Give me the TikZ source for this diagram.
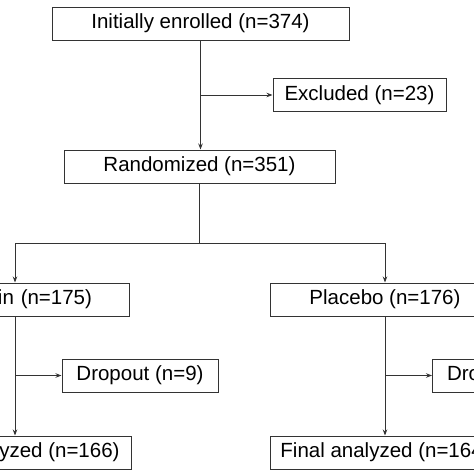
\documentclass[tikz,border=0pt]{standalone}
\usepackage{fontspec}
\setmainfont{Liberation Sans}
\usetikzlibrary{arrows.meta}
\begin{document}
\begin{tikzpicture}[x=1pt, y=-1pt,
      box/.style={rectangle, draw=black!80, line width=1pt, minimum height=33pt, inner xsep=0pt, font=\fontsize{20.5}{24}\selectfont},
      cutbox/.style={box, inner xsep=37pt, text width=154pt, align=right},
      arrow/.style={->, >={Stealth[length=6pt, width=4.5pt]}, draw=black!80, line width=0.9pt}
  ]
  \useasboundingbox (0,0) rectangle (474,474);
  \clip (0,0) rectangle (474,474);

  % Nodes (enrolment and randomization)
  \node[box, minimum width=297pt] (enrolled) at (200.5,23.5) {Initially enrolled (n=374)};
  \node[box, minimum width=173pt] (excluded) at (359.5,95) {Excluded (n=23)};
  \node[box, minimum width=271pt] (random) at (199.5,166.5) {Randomized (n=351)};

  % Nodes (two arms)
  \node[cutbox] (armA) at (15,299.5) {in (n=175)};
  \node[box, minimum width=229pt] (armB) at (385,299.5) {Placebo (n=176)};
  \node[box, minimum width=156pt] (dropA) at (140,375.5) {Dropout (n=9)};
  \node[box, inner xsep=14.5pt, anchor=west] (dropB) at (432,375.5) {Dropout};
  \node[box, minimum width=232pt] (finalA) at (15,452.5) {Final analyzed (n=166)};
  \node[box, minimum width=229pt] (finalB) at (385,452.5) {Final analyzed (n=164)};

  % Arrows
  \draw[arrow] (enrolled.south) -- (enrolled.south |- random.north);
  \draw[arrow] (enrolled.south |- excluded.west) -- (excluded.west);
  \draw[arrow] (random.south) -- ++(0,60) -| (armA.north);
  \draw[arrow] (random.south) -- ++(0,60) -| (armB.north);
  \draw[arrow] (armA.south) -- (finalA.north);
  \draw[arrow] (armA.south |- dropA.west) -- (dropA.west);
  \draw[arrow] (armB.south) -- (finalB.north);
  \draw[arrow] (armB.south |- dropB.west) -- (dropB.west);

\end{tikzpicture}
\end{document}
